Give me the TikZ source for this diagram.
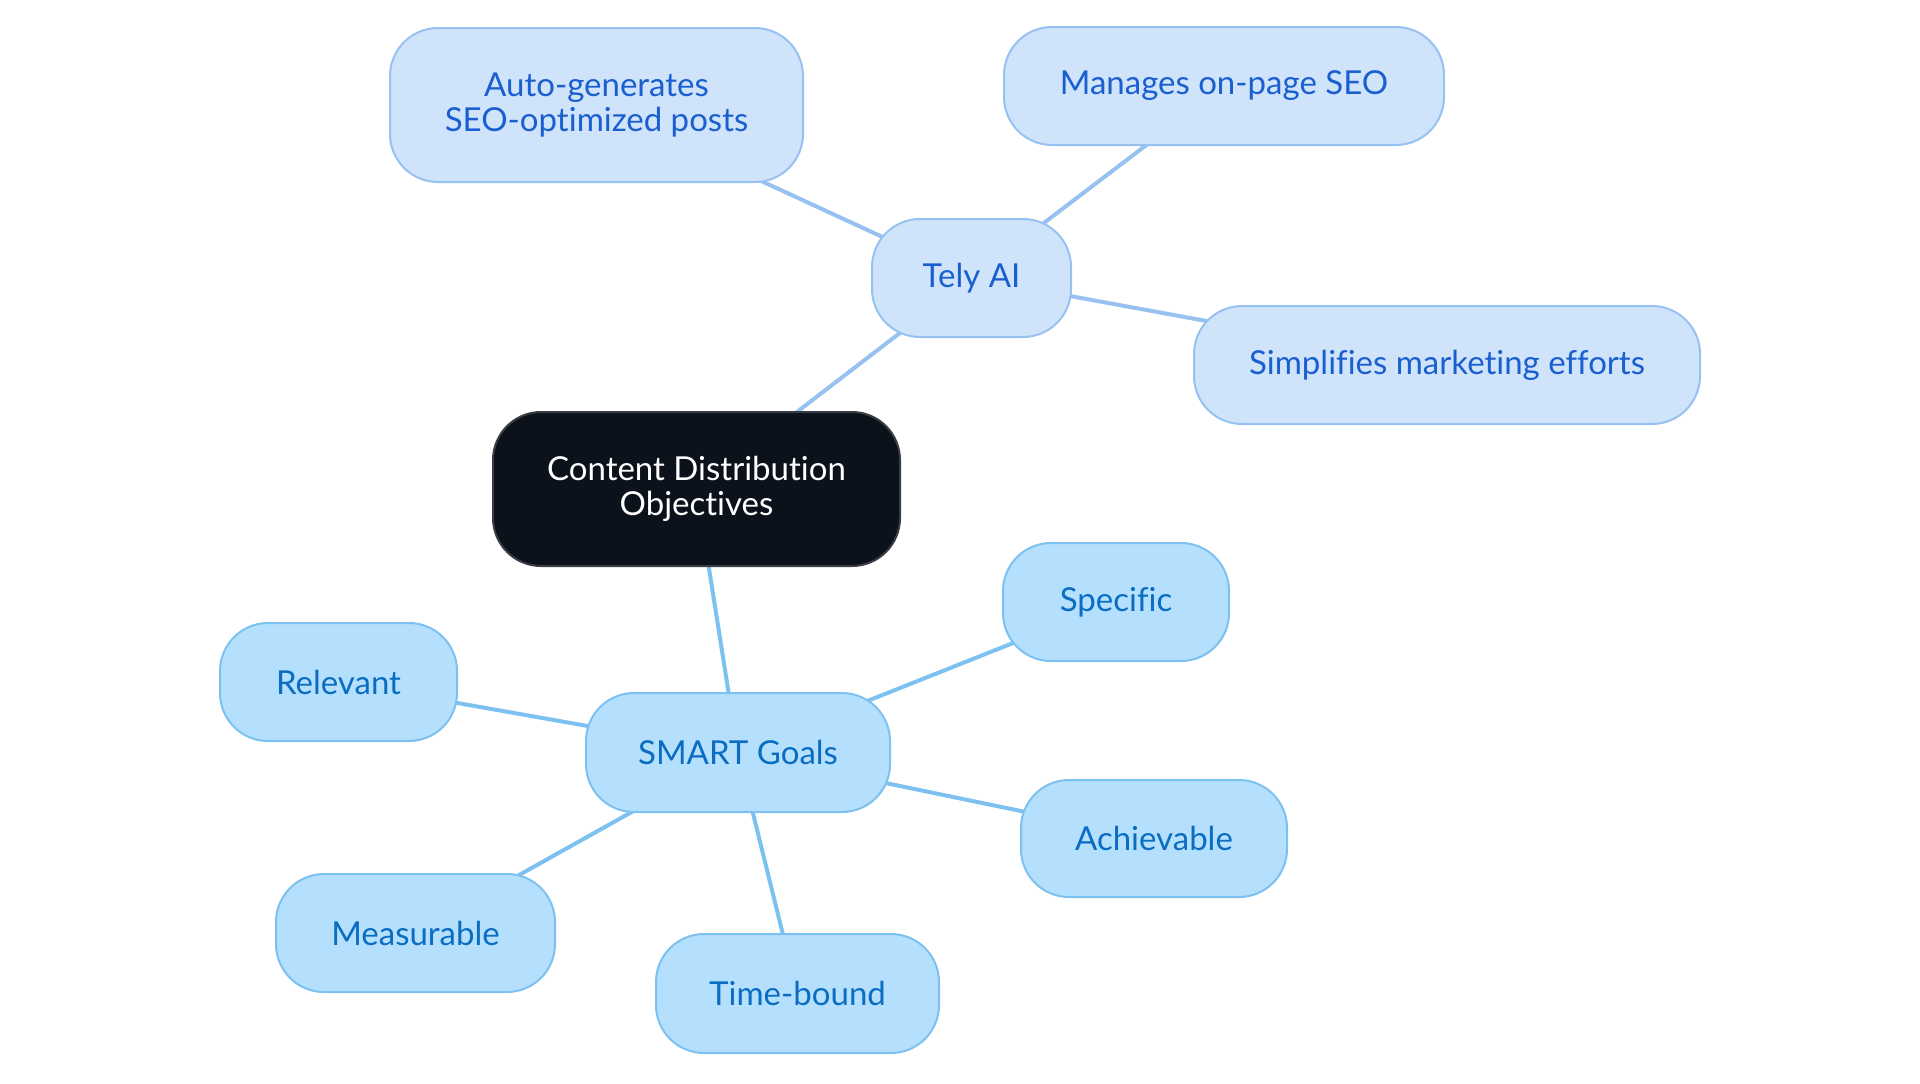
\documentclass[tikz,border=0pt]{standalone}
\usepackage{fontspec}
\setmainfont{Lato}[Ligatures={NoCommon,NoRequired,NoContextual}]
\usetikzlibrary{backgrounds}
\definecolor{tfill}{HTML}{CFE3FB}
\definecolor{tdraw}{HTML}{97C1F0}
\definecolor{ttext}{HTML}{1A5FD0}
\definecolor{sfill}{HTML}{B5E0FD}
\definecolor{sdraw}{HTML}{7DC1F0}
\definecolor{stext}{HTML}{0A6DC2}
\definecolor{cfill}{HTML}{0C121C}
\definecolor{cdraw}{HTML}{3A3E44}
\tikzset{
  box/.style={rounded corners=24pt, line width=1pt, align=center, inner sep=0pt,
    font=\fontsize{16.5}{17.5}\selectfont},
  rootbox/.style={box, fill=cfill, draw=cdraw, text=white},
  telybox/.style={box, fill=tfill, draw=tdraw, text=ttext},
  smartbox/.style={box, fill=sfill, draw=sdraw, text=stext},
  tlink/.style={draw=tdraw, line width=2pt},
  slink/.style={draw=sdraw, line width=2pt},
}
\begin{document}
\begin{tikzpicture}[x=0.5pt,y=-0.5pt]
\useasboundingbox (0,0) rectangle (1920,1083);
\node[rootbox, minimum width=203.5pt, minimum height=77pt] (root) at (696.5,489) {Content Distribution\\Objectives};
\node[telybox, minimum width=99.5pt, minimum height=59pt] (tely) at (971.5,278) {Tely AI};
\node[telybox, minimum width=206.5pt, minimum height=77pt] (auto) at (596.5,105) {Auto-generates\\SEO-optimized posts};
\node[telybox, minimum width=220pt, minimum height=59pt] (seo) at (1224,86) {Manages on-page SEO};
\node[telybox, minimum width=253pt, minimum height=59pt] (simp) at (1447,365) {Simplifies marketing efforts};
\node[smartbox, minimum width=152pt, minimum height=59.5pt] (smart) at (738,752.5) {SMART Goals};
\node[smartbox, minimum width=113pt, minimum height=59pt] (spec) at (1116,602) {Specific};
\node[smartbox, minimum width=118.5pt, minimum height=59pt] (rel) at (338.5,682) {Relevant};
\node[smartbox, minimum width=133pt, minimum height=58.5pt] (ach) at (1154,838.5) {Achievable};
\node[smartbox, minimum width=139.5pt, minimum height=59pt] (meas) at (415.5,933) {Measurable};
\node[smartbox, minimum width=141.5pt, minimum height=59.5pt] (time) at (797.5,993.5) {Time-bound};
\begin{scope}[on background layer]
\draw[tlink] (root.center) -- (tely.center);
\draw[tlink] (tely.center) -- (auto.center);
\draw[tlink] (tely.center) -- (seo.center);
\draw[tlink] (tely.center) -- (simp.center);
\draw[slink] (root.center) -- (smart.center);
\draw[slink] (smart.center) -- (spec.center);
\draw[slink] (smart.center) -- (rel.center);
\draw[slink] (smart.center) -- (ach.center);
\draw[slink] (smart.center) -- (meas.center);
\draw[slink] (smart.center) -- (time.center);
\end{scope}
\end{tikzpicture}
\end{document}
